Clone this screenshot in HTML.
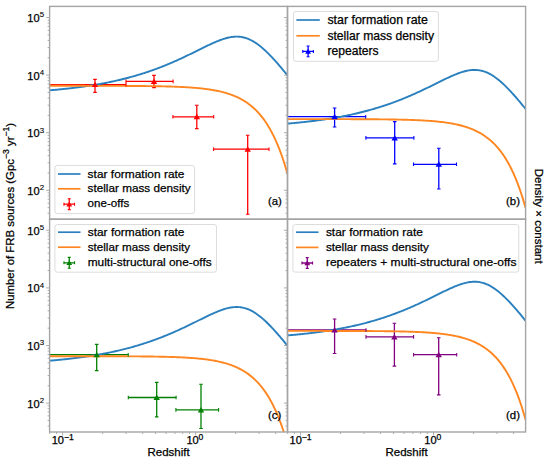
<!DOCTYPE html><html><head><meta charset="utf-8"><style>html,body{margin:0;padding:0;background:#fff;width:550px;height:463px;overflow:hidden}</style></head><body><svg width="550" height="463" viewBox="0 0 550 463" style="display:block">
<rect width="550" height="463" fill="#fff"/>
<defs>
<clipPath id="clipA"><rect x="49.6" y="6.4" width="237.9" height="212.79999999999998"/></clipPath>
<clipPath id="clipB"><rect x="287.5" y="6.4" width="238.10000000000002" height="212.79999999999998"/></clipPath>
<clipPath id="clipC"><rect x="49.6" y="219.2" width="237.9" height="212.8"/></clipPath>
<clipPath id="clipD"><rect x="287.5" y="219.2" width="238.10000000000002" height="212.8"/></clipPath>
</defs>
<g clip-path="url(#clipA)">
<path d="M40.00,84.60 H126.00 M95.00,79.40 V92.40" stroke="#ff0000" stroke-width="1.3" fill="none"/>
<path d="M126.00,81.40 H173.10 M154.00,75.40 V87.60" stroke="#ff0000" stroke-width="1.3" fill="none"/>
<path d="M172.90,116.80 H213.70 M196.80,105.20 V128.60" stroke="#ff0000" stroke-width="1.3" fill="none"/>
<path d="M213.60,149.20 H269.00 M247.70,135.30 V214.20" stroke="#ff0000" stroke-width="1.3" fill="none"/>
<path d="M49.60,90.30 L50.60,90.21 L51.59,90.13 L52.59,90.04 L53.58,89.96 L54.58,89.87 L55.57,89.78 L56.57,89.69 L57.56,89.59 L58.56,89.50 L59.55,89.40 L60.55,89.31 L61.54,89.21 L62.54,89.11 L63.54,89.00 L64.53,88.90 L65.53,88.79 L66.52,88.69 L67.52,88.58 L68.51,88.47 L69.51,88.36 L70.50,88.24 L71.50,88.13 L72.49,88.01 L73.49,87.89 L74.48,87.77 L75.48,87.64 L76.48,87.52 L77.47,87.39 L78.47,87.26 L79.46,87.13 L80.46,87.00 L81.45,86.87 L82.45,86.73 L83.44,86.59 L84.44,86.45 L85.43,86.31 L86.43,86.16 L87.43,86.01 L88.42,85.86 L89.42,85.71 L90.41,85.56 L91.41,85.40 L92.40,85.24 L93.40,85.08 L94.39,84.92 L95.39,84.75 L96.38,84.58 L97.38,84.41 L98.37,84.24 L99.37,84.06 L100.37,83.88 L101.36,83.70 L102.36,83.52 L103.35,83.33 L104.35,83.14 L105.34,82.95 L106.34,82.76 L107.33,82.56 L108.33,82.36 L109.32,82.16 L110.32,81.95 L111.31,81.74 L112.31,81.53 L113.31,81.32 L114.30,81.10 L115.30,80.88 L116.29,80.65 L117.29,80.43 L118.28,80.20 L119.28,79.97 L120.27,79.73 L121.27,79.49 L122.26,79.25 L123.26,79.00 L124.25,78.76 L125.25,78.50 L126.25,78.25 L127.24,77.99 L128.24,77.73 L129.23,77.46 L130.23,77.19 L131.22,76.92 L132.22,76.64 L133.21,76.37 L134.21,76.08 L135.20,75.80 L136.20,75.51 L137.19,75.21 L138.19,74.92 L139.19,74.61 L140.18,74.31 L141.18,74.00 L142.17,73.69 L143.17,73.37 L144.16,73.05 L145.16,72.73 L146.15,72.40 L147.15,72.07 L148.14,71.74 L149.14,71.40 L150.14,71.06 L151.13,70.71 L152.13,70.36 L153.12,70.01 L154.12,69.65 L155.11,69.29 L156.11,68.92 L157.10,68.55 L158.10,68.18 L159.09,67.80 L160.09,67.42 L161.08,67.03 L162.08,66.64 L163.08,66.25 L164.07,65.85 L165.07,65.45 L166.06,65.05 L167.06,64.64 L168.05,64.23 L169.05,63.81 L170.04,63.39 L171.04,62.96 L172.03,62.54 L173.03,62.11 L174.02,61.67 L175.02,61.23 L176.02,60.79 L177.01,60.34 L178.01,59.90 L179.00,59.44 L180.00,58.99 L180.99,58.53 L181.99,58.07 L182.98,57.60 L183.98,57.13 L184.97,56.66 L185.97,56.19 L186.96,55.71 L187.96,55.23 L188.96,54.75 L189.95,54.27 L190.95,53.79 L191.94,53.30 L192.94,52.81 L193.93,52.32 L194.93,51.83 L195.92,51.34 L196.92,50.85 L197.91,50.35 L198.91,49.86 L199.91,49.37 L200.90,48.88 L201.90,48.39 L202.89,47.90 L203.89,47.41 L204.88,46.92 L205.88,46.44 L206.87,45.96 L207.87,45.48 L208.86,45.01 L209.86,44.54 L210.85,44.08 L211.85,43.62 L212.85,43.17 L213.84,42.72 L214.84,42.29 L215.83,41.86 L216.83,41.44 L217.82,41.04 L218.82,40.64 L219.81,40.26 L220.81,39.89 L221.80,39.53 L222.80,39.19 L223.79,38.87 L224.79,38.56 L225.79,38.27 L226.78,38.00 L227.78,37.75 L228.77,37.52 L229.77,37.32 L230.76,37.14 L231.76,36.98 L232.75,36.85 L233.75,36.75 L234.74,36.68 L235.74,36.63 L236.73,36.62 L237.73,36.64 L238.73,36.69 L239.72,36.77 L240.72,36.89 L241.71,37.04 L242.71,37.23 L243.70,37.45 L244.70,37.71 L245.69,38.00 L246.69,38.33 L247.68,38.69 L248.68,39.09 L249.67,39.53 L250.67,40.00 L251.67,40.51 L252.66,41.05 L253.66,41.63 L254.65,42.24 L255.65,42.88 L256.64,43.55 L257.64,44.26 L258.63,45.00 L259.63,45.76 L260.62,46.56 L261.62,47.38 L262.62,48.22 L263.61,49.10 L264.61,50.00 L265.60,50.92 L266.60,51.86 L267.59,52.83 L268.59,53.81 L269.58,54.82 L270.58,55.85 L271.57,56.89 L272.57,57.95 L273.56,59.03 L274.56,60.12 L275.56,61.22 L276.55,62.35 L277.55,63.48 L278.54,64.63 L279.54,65.79 L280.53,66.96 L281.53,68.14 L282.52,69.33 L283.52,70.53 L284.51,71.75 L285.51,72.97 L286.50,74.20 L287.50,75.43" stroke="#2a80be" stroke-width="1.9" fill="none"/>
<path d="M49.60,85.81 L50.60,85.81 L51.59,85.81 L52.59,85.81 L53.58,85.81 L54.58,85.81 L55.57,85.81 L56.57,85.81 L57.56,85.81 L58.56,85.81 L59.55,85.81 L60.55,85.81 L61.54,85.81 L62.54,85.81 L63.54,85.81 L64.53,85.81 L65.53,85.81 L66.52,85.81 L67.52,85.81 L68.51,85.81 L69.51,85.81 L70.50,85.81 L71.50,85.82 L72.49,85.82 L73.49,85.82 L74.48,85.82 L75.48,85.82 L76.48,85.82 L77.47,85.82 L78.47,85.82 L79.46,85.82 L80.46,85.82 L81.45,85.82 L82.45,85.82 L83.44,85.82 L84.44,85.82 L85.43,85.83 L86.43,85.83 L87.43,85.83 L88.42,85.83 L89.42,85.83 L90.41,85.83 L91.41,85.83 L92.40,85.83 L93.40,85.83 L94.39,85.84 L95.39,85.84 L96.38,85.84 L97.38,85.84 L98.37,85.84 L99.37,85.84 L100.37,85.85 L101.36,85.85 L102.36,85.85 L103.35,85.85 L104.35,85.85 L105.34,85.86 L106.34,85.86 L107.33,85.86 L108.33,85.86 L109.32,85.86 L110.32,85.87 L111.31,85.87 L112.31,85.87 L113.31,85.88 L114.30,85.88 L115.30,85.88 L116.29,85.89 L117.29,85.89 L118.28,85.89 L119.28,85.90 L120.27,85.90 L121.27,85.90 L122.26,85.91 L123.26,85.91 L124.25,85.92 L125.25,85.92 L126.25,85.93 L127.24,85.93 L128.24,85.94 L129.23,85.94 L130.23,85.95 L131.22,85.95 L132.22,85.96 L133.21,85.97 L134.21,85.97 L135.20,85.98 L136.20,85.99 L137.19,86.00 L138.19,86.00 L139.19,86.01 L140.18,86.02 L141.18,86.03 L142.17,86.04 L143.17,86.05 L144.16,86.06 L145.16,86.07 L146.15,86.08 L147.15,86.09 L148.14,86.11 L149.14,86.12 L150.14,86.13 L151.13,86.14 L152.13,86.16 L153.12,86.17 L154.12,86.19 L155.11,86.21 L156.11,86.22 L157.10,86.24 L158.10,86.26 L159.09,86.28 L160.09,86.30 L161.08,86.32 L162.08,86.34 L163.08,86.36 L164.07,86.38 L165.07,86.41 L166.06,86.43 L167.06,86.46 L168.05,86.48 L169.05,86.51 L170.04,86.54 L171.04,86.57 L172.03,86.60 L173.03,86.64 L174.02,86.67 L175.02,86.71 L176.02,86.75 L177.01,86.79 L178.01,86.83 L179.00,86.87 L180.00,86.91 L180.99,86.96 L181.99,87.01 L182.98,87.06 L183.98,87.11 L184.97,87.16 L185.97,87.22 L186.96,87.28 L187.96,87.34 L188.96,87.40 L189.95,87.47 L190.95,87.54 L191.94,87.61 L192.94,87.68 L193.93,87.76 L194.93,87.84 L195.92,87.92 L196.92,88.01 L197.91,88.10 L198.91,88.20 L199.91,88.30 L200.90,88.40 L201.90,88.51 L202.89,88.62 L203.89,88.74 L204.88,88.86 L205.88,88.98 L206.87,89.12 L207.87,89.25 L208.86,89.40 L209.86,89.54 L210.85,89.70 L211.85,89.86 L212.85,90.03 L213.84,90.20 L214.84,90.38 L215.83,90.57 L216.83,90.77 L217.82,90.98 L218.82,91.19 L219.81,91.41 L220.81,91.65 L221.80,91.89 L222.80,92.14 L223.79,92.40 L224.79,92.67 L225.79,92.96 L226.78,93.25 L227.78,93.56 L228.77,93.88 L229.77,94.22 L230.76,94.56 L231.76,94.93 L232.75,95.30 L233.75,95.70 L234.74,96.11 L235.74,96.53 L236.73,96.98 L237.73,97.44 L238.73,97.92 L239.72,98.42 L240.72,98.94 L241.71,99.49 L242.71,100.05 L243.70,100.64 L244.70,101.25 L245.69,101.89 L246.69,102.56 L247.68,103.25 L248.68,103.97 L249.67,104.72 L250.67,105.50 L251.67,106.32 L252.66,107.17 L253.66,108.05 L254.65,108.97 L255.65,109.93 L256.64,110.93 L257.64,111.97 L258.63,113.05 L259.63,114.17 L260.62,115.35 L261.62,116.57 L262.62,117.84 L263.61,119.16 L264.61,120.54 L265.60,121.98 L266.60,123.48 L267.59,125.03 L268.59,126.66 L269.58,128.34 L270.58,130.10 L271.57,131.94 L272.57,133.84 L273.56,135.83 L274.56,137.90 L275.56,140.05 L276.55,142.29 L277.55,144.63 L278.54,147.06 L279.54,149.59 L280.53,152.23 L281.53,154.98 L282.52,157.84 L283.52,160.82 L284.51,163.92 L285.51,167.15 L286.50,170.51 L287.50,174.01" stroke="#ff8620" stroke-width="1.9" fill="none"/>
<path d="M40.00,82.80 V86.40 M126.00,82.80 V86.40 M93.20,79.40 H96.80 M93.20,92.40 H96.80" stroke="#ff0000" stroke-width="1.1" fill="none"/><path d="M95.00,81.66 L98.20,87.10 L91.80,87.10 Z" fill="#ff0000"/>
<path d="M126.00,79.60 V83.20 M173.10,79.60 V83.20 M152.20,75.40 H155.80 M152.20,87.60 H155.80" stroke="#ff0000" stroke-width="1.1" fill="none"/><path d="M154.00,78.46 L157.20,83.90 L150.80,83.90 Z" fill="#ff0000"/>
<path d="M172.90,115.00 V118.60 M213.70,115.00 V118.60 M195.00,105.20 H198.60 M195.00,128.60 H198.60" stroke="#ff0000" stroke-width="1.1" fill="none"/><path d="M196.80,113.86 L200.00,119.30 L193.60,119.30 Z" fill="#ff0000"/>
<path d="M213.60,147.40 V151.00 M269.00,147.40 V151.00 M245.90,135.30 H249.50 M245.90,214.20 H249.50" stroke="#ff0000" stroke-width="1.1" fill="none"/><path d="M247.70,146.26 L250.90,151.70 L244.50,151.70 Z" fill="#ff0000"/>
</g>
<g clip-path="url(#clipB)">
<path d="M280.00,116.70 H365.70 M334.60,108.00 V127.00" stroke="#0000ff" stroke-width="1.3" fill="none"/>
<path d="M365.90,137.90 H413.90 M394.70,121.60 V163.90" stroke="#0000ff" stroke-width="1.3" fill="none"/>
<path d="M413.50,164.30 H456.50 M438.80,148.20 V189.00" stroke="#0000ff" stroke-width="1.3" fill="none"/>
<path d="M287.50,123.60 L288.50,123.51 L289.49,123.43 L290.49,123.34 L291.48,123.26 L292.48,123.17 L293.48,123.08 L294.47,122.99 L295.47,122.89 L296.47,122.80 L297.46,122.70 L298.46,122.60 L299.45,122.51 L300.45,122.40 L301.45,122.30 L302.44,122.20 L303.44,122.09 L304.44,121.99 L305.43,121.88 L306.43,121.77 L307.42,121.65 L308.42,121.54 L309.42,121.42 L310.41,121.31 L311.41,121.19 L312.41,121.06 L313.40,120.94 L314.40,120.82 L315.39,120.69 L316.39,120.56 L317.39,120.43 L318.38,120.30 L319.38,120.16 L320.38,120.02 L321.37,119.89 L322.37,119.74 L323.36,119.60 L324.36,119.46 L325.36,119.31 L326.35,119.16 L327.35,119.01 L328.35,118.85 L329.34,118.69 L330.34,118.53 L331.33,118.37 L332.33,118.21 L333.33,118.04 L334.32,117.87 L335.32,117.70 L336.32,117.53 L337.31,117.35 L338.31,117.17 L339.30,116.99 L340.30,116.81 L341.30,116.62 L342.29,116.43 L343.29,116.24 L344.29,116.05 L345.28,115.85 L346.28,115.65 L347.27,115.45 L348.27,115.24 L349.27,115.03 L350.26,114.82 L351.26,114.60 L352.26,114.39 L353.25,114.17 L354.25,113.94 L355.24,113.72 L356.24,113.49 L357.24,113.25 L358.23,113.02 L359.23,112.78 L360.23,112.53 L361.22,112.29 L362.22,112.04 L363.21,111.79 L364.21,111.53 L365.21,111.27 L366.20,111.01 L367.20,110.74 L368.19,110.47 L369.19,110.20 L370.19,109.93 L371.18,109.65 L372.18,109.36 L373.18,109.08 L374.17,108.78 L375.17,108.49 L376.16,108.19 L377.16,107.89 L378.16,107.59 L379.15,107.28 L380.15,106.96 L381.15,106.65 L382.14,106.33 L383.14,106.00 L384.13,105.68 L385.13,105.35 L386.13,105.01 L387.12,104.67 L388.12,104.33 L389.12,103.98 L390.11,103.63 L391.11,103.28 L392.10,102.92 L393.10,102.55 L394.10,102.19 L395.09,101.82 L396.09,101.44 L397.09,101.06 L398.08,100.68 L399.08,100.30 L400.07,99.91 L401.07,99.51 L402.07,99.11 L403.06,98.71 L404.06,98.31 L405.06,97.90 L406.05,97.48 L407.05,97.07 L408.04,96.65 L409.04,96.22 L410.04,95.79 L411.03,95.36 L412.03,94.92 L413.03,94.49 L414.02,94.04 L415.02,93.60 L416.01,93.15 L417.01,92.69 L418.01,92.24 L419.00,91.78 L420.00,91.31 L421.00,90.85 L421.99,90.38 L422.99,89.91 L423.98,89.43 L424.98,88.96 L425.98,88.48 L426.97,88.00 L427.97,87.51 L428.97,87.03 L429.96,86.54 L430.96,86.05 L431.95,85.56 L432.95,85.07 L433.95,84.58 L434.94,84.09 L435.94,83.59 L436.94,83.10 L437.93,82.61 L438.93,82.11 L439.92,81.62 L440.92,81.13 L441.92,80.64 L442.91,80.16 L443.91,79.67 L444.91,79.19 L445.90,78.72 L446.90,78.24 L447.89,77.78 L448.89,77.31 L449.89,76.86 L450.88,76.41 L451.88,75.96 L452.87,75.53 L453.87,75.10 L454.87,74.69 L455.86,74.28 L456.86,73.89 L457.86,73.50 L458.85,73.13 L459.85,72.78 L460.84,72.44 L461.84,72.12 L462.84,71.81 L463.83,71.53 L464.83,71.26 L465.83,71.01 L466.82,70.79 L467.82,70.59 L468.81,70.41 L469.81,70.26 L470.81,70.14 L471.80,70.04 L472.80,69.97 L473.80,69.93 L474.79,69.92 L475.79,69.95 L476.78,70.00 L477.78,70.09 L478.78,70.21 L479.77,70.37 L480.77,70.56 L481.77,70.79 L482.76,71.05 L483.76,71.35 L484.75,71.69 L485.75,72.06 L486.75,72.47 L487.74,72.91 L488.74,73.39 L489.74,73.90 L490.73,74.45 L491.73,75.03 L492.72,75.65 L493.72,76.30 L494.72,76.98 L495.71,77.69 L496.71,78.43 L497.71,79.20 L498.70,80.00 L499.70,80.83 L500.69,81.68 L501.69,82.56 L502.69,83.46 L503.68,84.39 L504.68,85.34 L505.68,86.31 L506.67,87.30 L507.67,88.31 L508.66,89.34 L509.66,90.39 L510.66,91.45 L511.65,92.53 L512.65,93.63 L513.65,94.74 L514.64,95.86 L515.64,97.00 L516.63,98.15 L517.63,99.31 L518.63,100.49 L519.62,101.67 L520.62,102.87 L521.62,104.07 L522.61,105.29 L523.61,106.51 L524.60,107.74 L525.60,108.98" stroke="#2a80be" stroke-width="1.9" fill="none"/>
<path d="M287.50,119.11 L288.50,119.11 L289.49,119.11 L290.49,119.11 L291.48,119.11 L292.48,119.11 L293.48,119.11 L294.47,119.11 L295.47,119.11 L296.47,119.11 L297.46,119.11 L298.46,119.11 L299.45,119.11 L300.45,119.11 L301.45,119.11 L302.44,119.11 L303.44,119.11 L304.44,119.11 L305.43,119.11 L306.43,119.11 L307.42,119.11 L308.42,119.11 L309.42,119.12 L310.41,119.12 L311.41,119.12 L312.41,119.12 L313.40,119.12 L314.40,119.12 L315.39,119.12 L316.39,119.12 L317.39,119.12 L318.38,119.12 L319.38,119.12 L320.38,119.12 L321.37,119.12 L322.37,119.12 L323.36,119.13 L324.36,119.13 L325.36,119.13 L326.35,119.13 L327.35,119.13 L328.35,119.13 L329.34,119.13 L330.34,119.13 L331.33,119.13 L332.33,119.14 L333.33,119.14 L334.32,119.14 L335.32,119.14 L336.32,119.14 L337.31,119.14 L338.31,119.15 L339.30,119.15 L340.30,119.15 L341.30,119.15 L342.29,119.15 L343.29,119.16 L344.29,119.16 L345.28,119.16 L346.28,119.16 L347.27,119.16 L348.27,119.17 L349.27,119.17 L350.26,119.17 L351.26,119.18 L352.26,119.18 L353.25,119.18 L354.25,119.19 L355.24,119.19 L356.24,119.19 L357.24,119.20 L358.23,119.20 L359.23,119.20 L360.23,119.21 L361.22,119.21 L362.22,119.22 L363.21,119.22 L364.21,119.23 L365.21,119.23 L366.20,119.24 L367.20,119.24 L368.19,119.25 L369.19,119.25 L370.19,119.26 L371.18,119.27 L372.18,119.27 L373.18,119.28 L374.17,119.29 L375.17,119.30 L376.16,119.31 L377.16,119.31 L378.16,119.32 L379.15,119.33 L380.15,119.34 L381.15,119.35 L382.14,119.36 L383.14,119.37 L384.13,119.38 L385.13,119.39 L386.13,119.41 L387.12,119.42 L388.12,119.43 L389.12,119.45 L390.11,119.46 L391.11,119.48 L392.10,119.49 L393.10,119.51 L394.10,119.52 L395.09,119.54 L396.09,119.56 L397.09,119.58 L398.08,119.60 L399.08,119.62 L400.07,119.64 L401.07,119.66 L402.07,119.68 L403.06,119.71 L404.06,119.73 L405.06,119.76 L406.05,119.79 L407.05,119.82 L408.04,119.85 L409.04,119.88 L410.04,119.91 L411.03,119.94 L412.03,119.98 L413.03,120.01 L414.02,120.05 L415.02,120.09 L416.01,120.13 L417.01,120.17 L418.01,120.22 L419.00,120.26 L420.00,120.31 L421.00,120.36 L421.99,120.41 L422.99,120.47 L423.98,120.52 L424.98,120.58 L425.98,120.64 L426.97,120.71 L427.97,120.77 L428.97,120.84 L429.96,120.92 L430.96,120.99 L431.95,121.07 L432.95,121.15 L433.95,121.24 L434.94,121.32 L435.94,121.42 L436.94,121.51 L437.93,121.61 L438.93,121.71 L439.92,121.82 L440.92,121.94 L441.92,122.05 L442.91,122.17 L443.91,122.30 L444.91,122.43 L445.90,122.57 L446.90,122.72 L447.89,122.87 L448.89,123.02 L449.89,123.18 L450.88,123.35 L451.88,123.53 L452.87,123.71 L453.87,123.90 L454.87,124.10 L455.86,124.31 L456.86,124.52 L457.86,124.75 L458.85,124.98 L459.85,125.22 L460.84,125.48 L461.84,125.74 L462.84,126.02 L463.83,126.30 L464.83,126.60 L465.83,126.91 L466.82,127.23 L467.82,127.57 L468.81,127.92 L469.81,128.28 L470.81,128.66 L471.80,129.06 L472.80,129.47 L473.80,129.90 L474.79,130.35 L475.79,130.81 L476.78,131.30 L477.78,131.80 L478.78,132.33 L479.77,132.88 L480.77,133.45 L481.77,134.04 L482.76,134.66 L483.76,135.30 L484.75,135.97 L485.75,136.67 L486.75,137.40 L487.74,138.15 L488.74,138.94 L489.74,139.76 L490.73,140.62 L491.73,141.51 L492.72,142.43 L493.72,143.40 L494.72,144.41 L495.71,145.45 L496.71,146.54 L497.71,147.68 L498.70,148.86 L499.70,150.09 L500.69,151.37 L501.69,152.71 L502.69,154.10 L503.68,155.55 L504.68,157.06 L505.68,158.63 L506.67,160.26 L507.67,161.97 L508.66,163.74 L509.66,165.59 L510.66,167.51 L511.65,169.51 L512.65,171.60 L513.65,173.77 L514.64,176.03 L515.64,178.39 L516.63,180.84 L517.63,183.40 L518.63,186.06 L519.62,188.83 L520.62,191.72 L521.62,194.72 L522.61,197.85 L523.61,201.11 L524.60,204.50 L525.60,208.03" stroke="#ff8620" stroke-width="1.9" fill="none"/>
<path d="M280.00,114.90 V118.50 M365.70,114.90 V118.50 M332.80,108.00 H336.40 M332.80,127.00 H336.40" stroke="#0000ff" stroke-width="1.1" fill="none"/><path d="M334.60,113.76 L337.80,119.20 L331.40,119.20 Z" fill="#0000ff"/>
<path d="M365.90,136.10 V139.70 M413.90,136.10 V139.70 M392.90,121.60 H396.50 M392.90,163.90 H396.50" stroke="#0000ff" stroke-width="1.1" fill="none"/><path d="M394.70,134.96 L397.90,140.40 L391.50,140.40 Z" fill="#0000ff"/>
<path d="M413.50,162.50 V166.10 M456.50,162.50 V166.10 M437.00,148.20 H440.60 M437.00,189.00 H440.60" stroke="#0000ff" stroke-width="1.1" fill="none"/><path d="M438.80,161.36 L442.00,166.80 L435.60,166.80 Z" fill="#0000ff"/>
</g>
<g clip-path="url(#clipC)">
<path d="M40.00,354.70 H128.20 M96.70,344.40 V370.60" stroke="#008000" stroke-width="1.3" fill="none"/>
<path d="M128.30,397.50 H176.10 M156.70,382.40 V416.90" stroke="#008000" stroke-width="1.3" fill="none"/>
<path d="M175.90,409.90 H218.60 M201.00,384.20 V428.50" stroke="#008000" stroke-width="1.3" fill="none"/>
<path d="M49.60,360.70 L50.60,360.61 L51.59,360.53 L52.59,360.44 L53.58,360.36 L54.58,360.27 L55.57,360.18 L56.57,360.09 L57.56,359.99 L58.56,359.90 L59.55,359.80 L60.55,359.71 L61.54,359.61 L62.54,359.51 L63.54,359.40 L64.53,359.30 L65.53,359.19 L66.52,359.09 L67.52,358.98 L68.51,358.87 L69.51,358.76 L70.50,358.64 L71.50,358.53 L72.49,358.41 L73.49,358.29 L74.48,358.17 L75.48,358.04 L76.48,357.92 L77.47,357.79 L78.47,357.66 L79.46,357.53 L80.46,357.40 L81.45,357.27 L82.45,357.13 L83.44,356.99 L84.44,356.85 L85.43,356.71 L86.43,356.56 L87.43,356.41 L88.42,356.26 L89.42,356.11 L90.41,355.96 L91.41,355.80 L92.40,355.64 L93.40,355.48 L94.39,355.32 L95.39,355.15 L96.38,354.98 L97.38,354.81 L98.37,354.64 L99.37,354.46 L100.37,354.28 L101.36,354.10 L102.36,353.92 L103.35,353.73 L104.35,353.54 L105.34,353.35 L106.34,353.16 L107.33,352.96 L108.33,352.76 L109.32,352.56 L110.32,352.35 L111.31,352.14 L112.31,351.93 L113.31,351.72 L114.30,351.50 L115.30,351.28 L116.29,351.05 L117.29,350.83 L118.28,350.60 L119.28,350.37 L120.27,350.13 L121.27,349.89 L122.26,349.65 L123.26,349.40 L124.25,349.16 L125.25,348.90 L126.25,348.65 L127.24,348.39 L128.24,348.13 L129.23,347.86 L130.23,347.59 L131.22,347.32 L132.22,347.04 L133.21,346.77 L134.21,346.48 L135.20,346.20 L136.20,345.91 L137.19,345.61 L138.19,345.32 L139.19,345.01 L140.18,344.71 L141.18,344.40 L142.17,344.09 L143.17,343.77 L144.16,343.45 L145.16,343.13 L146.15,342.80 L147.15,342.47 L148.14,342.14 L149.14,341.80 L150.14,341.46 L151.13,341.11 L152.13,340.76 L153.12,340.41 L154.12,340.05 L155.11,339.69 L156.11,339.32 L157.10,338.95 L158.10,338.58 L159.09,338.20 L160.09,337.82 L161.08,337.43 L162.08,337.04 L163.08,336.65 L164.07,336.25 L165.07,335.85 L166.06,335.45 L167.06,335.04 L168.05,334.63 L169.05,334.21 L170.04,333.79 L171.04,333.36 L172.03,332.94 L173.03,332.51 L174.02,332.07 L175.02,331.63 L176.02,331.19 L177.01,330.74 L178.01,330.30 L179.00,329.84 L180.00,329.39 L180.99,328.93 L181.99,328.47 L182.98,328.00 L183.98,327.53 L184.97,327.06 L185.97,326.59 L186.96,326.11 L187.96,325.63 L188.96,325.15 L189.95,324.67 L190.95,324.19 L191.94,323.70 L192.94,323.21 L193.93,322.72 L194.93,322.23 L195.92,321.74 L196.92,321.25 L197.91,320.75 L198.91,320.26 L199.91,319.77 L200.90,319.28 L201.90,318.79 L202.89,318.30 L203.89,317.81 L204.88,317.32 L205.88,316.84 L206.87,316.36 L207.87,315.88 L208.86,315.41 L209.86,314.94 L210.85,314.48 L211.85,314.02 L212.85,313.57 L213.84,313.12 L214.84,312.69 L215.83,312.26 L216.83,311.84 L217.82,311.44 L218.82,311.04 L219.81,310.66 L220.81,310.29 L221.80,309.93 L222.80,309.59 L223.79,309.27 L224.79,308.96 L225.79,308.67 L226.78,308.40 L227.78,308.15 L228.77,307.92 L229.77,307.72 L230.76,307.54 L231.76,307.38 L232.75,307.25 L233.75,307.15 L234.74,307.08 L235.74,307.03 L236.73,307.02 L237.73,307.04 L238.73,307.09 L239.72,307.17 L240.72,307.29 L241.71,307.44 L242.71,307.63 L243.70,307.85 L244.70,308.11 L245.69,308.40 L246.69,308.73 L247.68,309.09 L248.68,309.49 L249.67,309.93 L250.67,310.40 L251.67,310.91 L252.66,311.45 L253.66,312.03 L254.65,312.64 L255.65,313.28 L256.64,313.95 L257.64,314.66 L258.63,315.40 L259.63,316.16 L260.62,316.96 L261.62,317.78 L262.62,318.62 L263.61,319.50 L264.61,320.40 L265.60,321.32 L266.60,322.26 L267.59,323.23 L268.59,324.21 L269.58,325.22 L270.58,326.25 L271.57,327.29 L272.57,328.35 L273.56,329.43 L274.56,330.52 L275.56,331.62 L276.55,332.75 L277.55,333.88 L278.54,335.03 L279.54,336.19 L280.53,337.36 L281.53,338.54 L282.52,339.73 L283.52,340.93 L284.51,342.15 L285.51,343.37 L286.50,344.60 L287.50,345.83" stroke="#2a80be" stroke-width="1.9" fill="none"/>
<path d="M49.60,356.21 L50.60,356.21 L51.59,356.21 L52.59,356.21 L53.58,356.21 L54.58,356.21 L55.57,356.21 L56.57,356.21 L57.56,356.21 L58.56,356.21 L59.55,356.21 L60.55,356.21 L61.54,356.21 L62.54,356.21 L63.54,356.21 L64.53,356.21 L65.53,356.21 L66.52,356.21 L67.52,356.21 L68.51,356.21 L69.51,356.21 L70.50,356.21 L71.50,356.22 L72.49,356.22 L73.49,356.22 L74.48,356.22 L75.48,356.22 L76.48,356.22 L77.47,356.22 L78.47,356.22 L79.46,356.22 L80.46,356.22 L81.45,356.22 L82.45,356.22 L83.44,356.22 L84.44,356.22 L85.43,356.23 L86.43,356.23 L87.43,356.23 L88.42,356.23 L89.42,356.23 L90.41,356.23 L91.41,356.23 L92.40,356.23 L93.40,356.23 L94.39,356.24 L95.39,356.24 L96.38,356.24 L97.38,356.24 L98.37,356.24 L99.37,356.24 L100.37,356.25 L101.36,356.25 L102.36,356.25 L103.35,356.25 L104.35,356.25 L105.34,356.26 L106.34,356.26 L107.33,356.26 L108.33,356.26 L109.32,356.26 L110.32,356.27 L111.31,356.27 L112.31,356.27 L113.31,356.28 L114.30,356.28 L115.30,356.28 L116.29,356.29 L117.29,356.29 L118.28,356.29 L119.28,356.30 L120.27,356.30 L121.27,356.30 L122.26,356.31 L123.26,356.31 L124.25,356.32 L125.25,356.32 L126.25,356.33 L127.24,356.33 L128.24,356.34 L129.23,356.34 L130.23,356.35 L131.22,356.35 L132.22,356.36 L133.21,356.37 L134.21,356.37 L135.20,356.38 L136.20,356.39 L137.19,356.40 L138.19,356.40 L139.19,356.41 L140.18,356.42 L141.18,356.43 L142.17,356.44 L143.17,356.45 L144.16,356.46 L145.16,356.47 L146.15,356.48 L147.15,356.49 L148.14,356.51 L149.14,356.52 L150.14,356.53 L151.13,356.54 L152.13,356.56 L153.12,356.57 L154.12,356.59 L155.11,356.61 L156.11,356.62 L157.10,356.64 L158.10,356.66 L159.09,356.68 L160.09,356.70 L161.08,356.72 L162.08,356.74 L163.08,356.76 L164.07,356.78 L165.07,356.81 L166.06,356.83 L167.06,356.86 L168.05,356.88 L169.05,356.91 L170.04,356.94 L171.04,356.97 L172.03,357.00 L173.03,357.04 L174.02,357.07 L175.02,357.11 L176.02,357.15 L177.01,357.19 L178.01,357.23 L179.00,357.27 L180.00,357.31 L180.99,357.36 L181.99,357.41 L182.98,357.46 L183.98,357.51 L184.97,357.56 L185.97,357.62 L186.96,357.68 L187.96,357.74 L188.96,357.80 L189.95,357.87 L190.95,357.94 L191.94,358.01 L192.94,358.08 L193.93,358.16 L194.93,358.24 L195.92,358.32 L196.92,358.41 L197.91,358.50 L198.91,358.60 L199.91,358.70 L200.90,358.80 L201.90,358.91 L202.89,359.02 L203.89,359.14 L204.88,359.26 L205.88,359.38 L206.87,359.52 L207.87,359.65 L208.86,359.80 L209.86,359.94 L210.85,360.10 L211.85,360.26 L212.85,360.43 L213.84,360.60 L214.84,360.78 L215.83,360.97 L216.83,361.17 L217.82,361.38 L218.82,361.59 L219.81,361.81 L220.81,362.05 L221.80,362.29 L222.80,362.54 L223.79,362.80 L224.79,363.07 L225.79,363.36 L226.78,363.65 L227.78,363.96 L228.77,364.28 L229.77,364.62 L230.76,364.96 L231.76,365.33 L232.75,365.70 L233.75,366.10 L234.74,366.51 L235.74,366.93 L236.73,367.38 L237.73,367.84 L238.73,368.32 L239.72,368.82 L240.72,369.34 L241.71,369.89 L242.71,370.45 L243.70,371.04 L244.70,371.65 L245.69,372.29 L246.69,372.96 L247.68,373.65 L248.68,374.37 L249.67,375.12 L250.67,375.90 L251.67,376.72 L252.66,377.57 L253.66,378.45 L254.65,379.37 L255.65,380.33 L256.64,381.33 L257.64,382.37 L258.63,383.45 L259.63,384.57 L260.62,385.75 L261.62,386.97 L262.62,388.24 L263.61,389.56 L264.61,390.94 L265.60,392.38 L266.60,393.88 L267.59,395.43 L268.59,397.06 L269.58,398.74 L270.58,400.50 L271.57,402.34 L272.57,404.24 L273.56,406.23 L274.56,408.30 L275.56,410.45 L276.55,412.69 L277.55,415.03 L278.54,417.46 L279.54,419.99 L280.53,422.63 L281.53,425.38 L282.52,428.24 L283.52,431.22 L284.51,434.32 L285.51,437.55 L286.50,440.91 L287.50,444.41" stroke="#ff8620" stroke-width="1.9" fill="none"/>
<path d="M40.00,352.90 V356.50 M128.20,352.90 V356.50 M94.90,344.40 H98.50 M94.90,370.60 H98.50" stroke="#008000" stroke-width="1.1" fill="none"/><path d="M96.70,351.76 L99.90,357.20 L93.50,357.20 Z" fill="#008000"/>
<path d="M128.30,395.70 V399.30 M176.10,395.70 V399.30 M154.90,382.40 H158.50 M154.90,416.90 H158.50" stroke="#008000" stroke-width="1.1" fill="none"/><path d="M156.70,394.56 L159.90,400.00 L153.50,400.00 Z" fill="#008000"/>
<path d="M175.90,408.10 V411.70 M218.60,408.10 V411.70 M199.20,384.20 H202.80 M199.20,428.50 H202.80" stroke="#008000" stroke-width="1.1" fill="none"/><path d="M201.00,406.96 L204.20,412.40 L197.80,412.40 Z" fill="#008000"/>
</g>
<g clip-path="url(#clipD)">
<path d="M280.00,330.00 H366.00 M334.60,319.00 V353.50" stroke="#800080" stroke-width="1.3" fill="none"/>
<path d="M366.00,336.90 H413.60 M394.40,323.30 V366.10" stroke="#800080" stroke-width="1.3" fill="none"/>
<path d="M413.60,354.70 H456.70 M438.70,337.80 V394.90" stroke="#800080" stroke-width="1.3" fill="none"/>
<path d="M287.50,335.40 L288.50,335.31 L289.49,335.23 L290.49,335.14 L291.48,335.06 L292.48,334.97 L293.48,334.88 L294.47,334.79 L295.47,334.69 L296.47,334.60 L297.46,334.50 L298.46,334.40 L299.45,334.31 L300.45,334.20 L301.45,334.10 L302.44,334.00 L303.44,333.89 L304.44,333.79 L305.43,333.68 L306.43,333.57 L307.42,333.45 L308.42,333.34 L309.42,333.22 L310.41,333.11 L311.41,332.99 L312.41,332.86 L313.40,332.74 L314.40,332.62 L315.39,332.49 L316.39,332.36 L317.39,332.23 L318.38,332.10 L319.38,331.96 L320.38,331.82 L321.37,331.69 L322.37,331.54 L323.36,331.40 L324.36,331.26 L325.36,331.11 L326.35,330.96 L327.35,330.81 L328.35,330.65 L329.34,330.49 L330.34,330.33 L331.33,330.17 L332.33,330.01 L333.33,329.84 L334.32,329.67 L335.32,329.50 L336.32,329.33 L337.31,329.15 L338.31,328.97 L339.30,328.79 L340.30,328.61 L341.30,328.42 L342.29,328.23 L343.29,328.04 L344.29,327.85 L345.28,327.65 L346.28,327.45 L347.27,327.25 L348.27,327.04 L349.27,326.83 L350.26,326.62 L351.26,326.40 L352.26,326.19 L353.25,325.97 L354.25,325.74 L355.24,325.52 L356.24,325.29 L357.24,325.05 L358.23,324.82 L359.23,324.58 L360.23,324.33 L361.22,324.09 L362.22,323.84 L363.21,323.59 L364.21,323.33 L365.21,323.07 L366.20,322.81 L367.20,322.54 L368.19,322.27 L369.19,322.00 L370.19,321.73 L371.18,321.45 L372.18,321.16 L373.18,320.88 L374.17,320.58 L375.17,320.29 L376.16,319.99 L377.16,319.69 L378.16,319.39 L379.15,319.08 L380.15,318.76 L381.15,318.45 L382.14,318.13 L383.14,317.80 L384.13,317.48 L385.13,317.15 L386.13,316.81 L387.12,316.47 L388.12,316.13 L389.12,315.78 L390.11,315.43 L391.11,315.08 L392.10,314.72 L393.10,314.35 L394.10,313.99 L395.09,313.62 L396.09,313.24 L397.09,312.86 L398.08,312.48 L399.08,312.10 L400.07,311.71 L401.07,311.31 L402.07,310.91 L403.06,310.51 L404.06,310.11 L405.06,309.70 L406.05,309.28 L407.05,308.87 L408.04,308.45 L409.04,308.02 L410.04,307.59 L411.03,307.16 L412.03,306.72 L413.03,306.29 L414.02,305.84 L415.02,305.40 L416.01,304.95 L417.01,304.49 L418.01,304.04 L419.00,303.58 L420.00,303.11 L421.00,302.65 L421.99,302.18 L422.99,301.71 L423.98,301.23 L424.98,300.76 L425.98,300.28 L426.97,299.80 L427.97,299.31 L428.97,298.83 L429.96,298.34 L430.96,297.85 L431.95,297.36 L432.95,296.87 L433.95,296.38 L434.94,295.89 L435.94,295.39 L436.94,294.90 L437.93,294.41 L438.93,293.91 L439.92,293.42 L440.92,292.93 L441.92,292.44 L442.91,291.96 L443.91,291.47 L444.91,290.99 L445.90,290.52 L446.90,290.04 L447.89,289.58 L448.89,289.11 L449.89,288.66 L450.88,288.21 L451.88,287.76 L452.87,287.33 L453.87,286.90 L454.87,286.49 L455.86,286.08 L456.86,285.69 L457.86,285.30 L458.85,284.93 L459.85,284.58 L460.84,284.24 L461.84,283.92 L462.84,283.61 L463.83,283.33 L464.83,283.06 L465.83,282.81 L466.82,282.59 L467.82,282.39 L468.81,282.21 L469.81,282.06 L470.81,281.94 L471.80,281.84 L472.80,281.77 L473.80,281.73 L474.79,281.72 L475.79,281.75 L476.78,281.80 L477.78,281.89 L478.78,282.01 L479.77,282.17 L480.77,282.36 L481.77,282.59 L482.76,282.85 L483.76,283.15 L484.75,283.49 L485.75,283.86 L486.75,284.27 L487.74,284.71 L488.74,285.19 L489.74,285.70 L490.73,286.25 L491.73,286.83 L492.72,287.45 L493.72,288.10 L494.72,288.78 L495.71,289.49 L496.71,290.23 L497.71,291.00 L498.70,291.80 L499.70,292.63 L500.69,293.48 L501.69,294.36 L502.69,295.26 L503.68,296.19 L504.68,297.14 L505.68,298.11 L506.67,299.10 L507.67,300.11 L508.66,301.14 L509.66,302.19 L510.66,303.25 L511.65,304.33 L512.65,305.43 L513.65,306.54 L514.64,307.66 L515.64,308.80 L516.63,309.95 L517.63,311.11 L518.63,312.29 L519.62,313.47 L520.62,314.67 L521.62,315.87 L522.61,317.09 L523.61,318.31 L524.60,319.54 L525.60,320.78" stroke="#2a80be" stroke-width="1.9" fill="none"/>
<path d="M287.50,330.91 L288.50,330.91 L289.49,330.91 L290.49,330.91 L291.48,330.91 L292.48,330.91 L293.48,330.91 L294.47,330.91 L295.47,330.91 L296.47,330.91 L297.46,330.91 L298.46,330.91 L299.45,330.91 L300.45,330.91 L301.45,330.91 L302.44,330.91 L303.44,330.91 L304.44,330.91 L305.43,330.91 L306.43,330.91 L307.42,330.91 L308.42,330.91 L309.42,330.92 L310.41,330.92 L311.41,330.92 L312.41,330.92 L313.40,330.92 L314.40,330.92 L315.39,330.92 L316.39,330.92 L317.39,330.92 L318.38,330.92 L319.38,330.92 L320.38,330.92 L321.37,330.92 L322.37,330.92 L323.36,330.93 L324.36,330.93 L325.36,330.93 L326.35,330.93 L327.35,330.93 L328.35,330.93 L329.34,330.93 L330.34,330.93 L331.33,330.93 L332.33,330.94 L333.33,330.94 L334.32,330.94 L335.32,330.94 L336.32,330.94 L337.31,330.94 L338.31,330.95 L339.30,330.95 L340.30,330.95 L341.30,330.95 L342.29,330.95 L343.29,330.96 L344.29,330.96 L345.28,330.96 L346.28,330.96 L347.27,330.96 L348.27,330.97 L349.27,330.97 L350.26,330.97 L351.26,330.98 L352.26,330.98 L353.25,330.98 L354.25,330.99 L355.24,330.99 L356.24,330.99 L357.24,331.00 L358.23,331.00 L359.23,331.00 L360.23,331.01 L361.22,331.01 L362.22,331.02 L363.21,331.02 L364.21,331.03 L365.21,331.03 L366.20,331.04 L367.20,331.04 L368.19,331.05 L369.19,331.05 L370.19,331.06 L371.18,331.07 L372.18,331.07 L373.18,331.08 L374.17,331.09 L375.17,331.10 L376.16,331.11 L377.16,331.11 L378.16,331.12 L379.15,331.13 L380.15,331.14 L381.15,331.15 L382.14,331.16 L383.14,331.17 L384.13,331.18 L385.13,331.19 L386.13,331.21 L387.12,331.22 L388.12,331.23 L389.12,331.25 L390.11,331.26 L391.11,331.28 L392.10,331.29 L393.10,331.31 L394.10,331.32 L395.09,331.34 L396.09,331.36 L397.09,331.38 L398.08,331.40 L399.08,331.42 L400.07,331.44 L401.07,331.46 L402.07,331.48 L403.06,331.51 L404.06,331.53 L405.06,331.56 L406.05,331.59 L407.05,331.62 L408.04,331.65 L409.04,331.68 L410.04,331.71 L411.03,331.74 L412.03,331.78 L413.03,331.81 L414.02,331.85 L415.02,331.89 L416.01,331.93 L417.01,331.97 L418.01,332.02 L419.00,332.06 L420.00,332.11 L421.00,332.16 L421.99,332.21 L422.99,332.27 L423.98,332.32 L424.98,332.38 L425.98,332.44 L426.97,332.51 L427.97,332.57 L428.97,332.64 L429.96,332.72 L430.96,332.79 L431.95,332.87 L432.95,332.95 L433.95,333.04 L434.94,333.12 L435.94,333.22 L436.94,333.31 L437.93,333.41 L438.93,333.51 L439.92,333.62 L440.92,333.74 L441.92,333.85 L442.91,333.97 L443.91,334.10 L444.91,334.23 L445.90,334.37 L446.90,334.52 L447.89,334.67 L448.89,334.82 L449.89,334.98 L450.88,335.15 L451.88,335.33 L452.87,335.51 L453.87,335.70 L454.87,335.90 L455.86,336.11 L456.86,336.32 L457.86,336.55 L458.85,336.78 L459.85,337.02 L460.84,337.28 L461.84,337.54 L462.84,337.82 L463.83,338.10 L464.83,338.40 L465.83,338.71 L466.82,339.03 L467.82,339.37 L468.81,339.72 L469.81,340.08 L470.81,340.46 L471.80,340.86 L472.80,341.27 L473.80,341.70 L474.79,342.15 L475.79,342.61 L476.78,343.10 L477.78,343.60 L478.78,344.13 L479.77,344.68 L480.77,345.25 L481.77,345.84 L482.76,346.46 L483.76,347.10 L484.75,347.77 L485.75,348.47 L486.75,349.20 L487.74,349.95 L488.74,350.74 L489.74,351.56 L490.73,352.42 L491.73,353.31 L492.72,354.23 L493.72,355.20 L494.72,356.21 L495.71,357.25 L496.71,358.34 L497.71,359.48 L498.70,360.66 L499.70,361.89 L500.69,363.17 L501.69,364.51 L502.69,365.90 L503.68,367.35 L504.68,368.86 L505.68,370.43 L506.67,372.06 L507.67,373.77 L508.66,375.54 L509.66,377.39 L510.66,379.31 L511.65,381.31 L512.65,383.40 L513.65,385.57 L514.64,387.83 L515.64,390.19 L516.63,392.64 L517.63,395.20 L518.63,397.86 L519.62,400.63 L520.62,403.52 L521.62,406.52 L522.61,409.65 L523.61,412.91 L524.60,416.30 L525.60,419.83" stroke="#ff8620" stroke-width="1.9" fill="none"/>
<path d="M280.00,328.20 V331.80 M366.00,328.20 V331.80 M332.80,319.00 H336.40 M332.80,353.50 H336.40" stroke="#800080" stroke-width="1.1" fill="none"/><path d="M334.60,327.06 L337.80,332.50 L331.40,332.50 Z" fill="#800080"/>
<path d="M366.00,335.10 V338.70 M413.60,335.10 V338.70 M392.60,323.30 H396.20 M392.60,366.10 H396.20" stroke="#800080" stroke-width="1.1" fill="none"/><path d="M394.40,333.96 L397.60,339.40 L391.20,339.40 Z" fill="#800080"/>
<path d="M413.60,352.90 V356.50 M456.70,352.90 V356.50 M436.90,337.80 H440.50 M436.90,394.90 H440.50" stroke="#800080" stroke-width="1.1" fill="none"/><path d="M438.70,351.76 L441.90,357.20 L435.50,357.20 Z" fill="#800080"/>
</g>
<path d="M47.60,213.22 H49.60 M47.60,207.64 H49.60 M47.60,203.08 H49.60 M47.60,199.22 H49.60 M47.60,195.88 H49.60 M47.60,192.94 H49.60 M46.10,190.30 H49.60 M47.60,172.96 H49.60 M47.60,162.82 H49.60 M47.60,155.62 H49.60 M47.60,150.04 H49.60 M47.60,145.48 H49.60 M47.60,141.62 H49.60 M47.60,138.28 H49.60 M47.60,135.34 H49.60 M46.10,132.70 H49.60 M47.60,115.36 H49.60 M47.60,105.22 H49.60 M47.60,98.02 H49.60 M47.60,92.44 H49.60 M47.60,87.88 H49.60 M47.60,84.02 H49.60 M47.60,80.68 H49.60 M47.60,77.74 H49.60 M46.10,75.10 H49.60 M47.60,57.76 H49.60 M47.60,47.62 H49.60 M47.60,40.42 H49.60 M47.60,34.84 H49.60 M47.60,30.28 H49.60 M47.60,26.42 H49.60 M47.60,23.08 H49.60 M47.60,20.14 H49.60 M46.10,17.50 H49.60 M285.50,213.22 H287.50 M285.50,207.64 H287.50 M285.50,203.08 H287.50 M285.50,199.22 H287.50 M285.50,195.88 H287.50 M285.50,192.94 H287.50 M284.00,190.30 H287.50 M285.50,172.96 H287.50 M285.50,162.82 H287.50 M285.50,155.62 H287.50 M285.50,150.04 H287.50 M285.50,145.48 H287.50 M285.50,141.62 H287.50 M285.50,138.28 H287.50 M285.50,135.34 H287.50 M284.00,132.70 H287.50 M285.50,115.36 H287.50 M285.50,105.22 H287.50 M285.50,98.02 H287.50 M285.50,92.44 H287.50 M285.50,87.88 H287.50 M285.50,84.02 H287.50 M285.50,80.68 H287.50 M285.50,77.74 H287.50 M284.00,75.10 H287.50 M285.50,57.76 H287.50 M285.50,47.62 H287.50 M285.50,40.42 H287.50 M285.50,34.84 H287.50 M285.50,30.28 H287.50 M285.50,26.42 H287.50 M285.50,23.08 H287.50 M285.50,20.14 H287.50 M284.00,17.50 H287.50 M47.60,426.02 H49.60 M47.60,420.44 H49.60 M47.60,415.88 H49.60 M47.60,412.02 H49.60 M47.60,408.68 H49.60 M47.60,405.74 H49.60 M46.10,403.10 H49.60 M47.60,385.76 H49.60 M47.60,375.62 H49.60 M47.60,368.42 H49.60 M47.60,362.84 H49.60 M47.60,358.28 H49.60 M47.60,354.42 H49.60 M47.60,351.08 H49.60 M47.60,348.14 H49.60 M46.10,345.50 H49.60 M47.60,328.16 H49.60 M47.60,318.02 H49.60 M47.60,310.82 H49.60 M47.60,305.24 H49.60 M47.60,300.68 H49.60 M47.60,296.82 H49.60 M47.60,293.48 H49.60 M47.60,290.54 H49.60 M46.10,287.90 H49.60 M47.60,270.56 H49.60 M47.60,260.42 H49.60 M47.60,253.22 H49.60 M47.60,247.64 H49.60 M47.60,243.08 H49.60 M47.60,239.22 H49.60 M47.60,235.88 H49.60 M47.60,232.94 H49.60 M46.10,230.30 H49.60 M49.77,432.00 V434.00 M56.57,432.00 V434.00 M62.65,432.00 V435.50 M102.67,432.00 V434.00 M126.08,432.00 V434.00 M142.69,432.00 V434.00 M155.58,432.00 V434.00 M166.11,432.00 V434.00 M175.01,432.00 V434.00 M182.72,432.00 V434.00 M189.52,432.00 V434.00 M195.60,432.00 V435.50 M235.62,432.00 V434.00 M259.03,432.00 V434.00 M275.64,432.00 V434.00 M285.50,426.02 H287.50 M285.50,420.44 H287.50 M285.50,415.88 H287.50 M285.50,412.02 H287.50 M285.50,408.68 H287.50 M285.50,405.74 H287.50 M284.00,403.10 H287.50 M285.50,385.76 H287.50 M285.50,375.62 H287.50 M285.50,368.42 H287.50 M285.50,362.84 H287.50 M285.50,358.28 H287.50 M285.50,354.42 H287.50 M285.50,351.08 H287.50 M285.50,348.14 H287.50 M284.00,345.50 H287.50 M285.50,328.16 H287.50 M285.50,318.02 H287.50 M285.50,310.82 H287.50 M285.50,305.24 H287.50 M285.50,300.68 H287.50 M285.50,296.82 H287.50 M285.50,293.48 H287.50 M285.50,290.54 H287.50 M284.00,287.90 H287.50 M285.50,270.56 H287.50 M285.50,260.42 H287.50 M285.50,253.22 H287.50 M285.50,247.64 H287.50 M285.50,243.08 H287.50 M285.50,239.22 H287.50 M285.50,235.88 H287.50 M285.50,232.94 H287.50 M284.00,230.30 H287.50 M287.67,432.00 V434.00 M294.47,432.00 V434.00 M300.55,432.00 V435.50 M340.57,432.00 V434.00 M363.98,432.00 V434.00 M380.59,432.00 V434.00 M393.48,432.00 V434.00 M404.01,432.00 V434.00 M412.91,432.00 V434.00 M420.62,432.00 V434.00 M427.42,432.00 V434.00 M433.50,432.00 V435.50 M473.52,432.00 V434.00 M496.93,432.00 V434.00 M513.54,432.00 V434.00" stroke="#a4a4a4" stroke-width="0.9" fill="none"/>
<rect x="49.6" y="6.4" width="237.9" height="212.79999999999998" fill="none" stroke="#a4a4a4" stroke-width="1.4"/>
<rect x="287.5" y="6.4" width="238.10000000000002" height="212.79999999999998" fill="none" stroke="#a4a4a4" stroke-width="1.4"/>
<rect x="49.6" y="219.2" width="237.9" height="212.8" fill="none" stroke="#a4a4a4" stroke-width="1.4"/>
<rect x="287.5" y="219.2" width="238.10000000000002" height="212.8" fill="none" stroke="#a4a4a4" stroke-width="1.4"/>
<rect x="54.9" y="165.4" width="139.70" height="48.20" rx="2.5" fill="#fff" fill-opacity="0.8" stroke="#dcdcdc" stroke-width="1"/>
<path d="M58.00,174.00 H80.50" stroke="#2a80be" stroke-width="1.7"/>
<path d="M58.00,188.80 H80.50" stroke="#ff8620" stroke-width="1.7"/>
<path d="M63.95,204.20 H74.55 M69.25,198.80 V209.60" stroke="#ff0000" stroke-width="1.3" fill="none"/><path d="M63.95,202.70 V205.70 M74.55,202.70 V205.70 M67.75,198.80 H70.75 M67.75,209.60 H70.75" stroke="#ff0000" stroke-width="1.1" fill="none"/><path d="M69.25,201.53 L72.15,206.46 L66.35,206.46 Z" fill="#ff0000"/>
<text x="87.60" y="177.50" textLength="96.9" lengthAdjust="spacingAndGlyphs" style="font-family:'Liberation Sans',sans-serif;font-size:11.8px" fill="#000" stroke="#000" stroke-width="0.25">star formation rate</text>
<text x="87.60" y="192.40" textLength="103.1" lengthAdjust="spacingAndGlyphs" style="font-family:'Liberation Sans',sans-serif;font-size:11.8px" fill="#000" stroke="#000" stroke-width="0.25">stellar mass density</text>
<text x="87.60" y="207.30" textLength="41.6" lengthAdjust="spacingAndGlyphs" style="font-family:'Liberation Sans',sans-serif;font-size:11.8px" fill="#000" stroke="#000" stroke-width="0.25">one-offs</text>
<rect x="293.5" y="11.4" width="144.90" height="49.90" rx="2.5" fill="#fff" fill-opacity="0.8" stroke="#dcdcdc" stroke-width="1"/>
<path d="M296.40,20.00 H319.80" stroke="#2a80be" stroke-width="1.7"/>
<path d="M296.40,35.80 H319.80" stroke="#ff8620" stroke-width="1.7"/>
<path d="M302.80,51.40 H313.40 M308.10,46.00 V56.80" stroke="#0000ff" stroke-width="1.3" fill="none"/><path d="M302.80,49.90 V52.90 M313.40,49.90 V52.90 M306.60,46.00 H309.60 M306.60,56.80 H309.60" stroke="#0000ff" stroke-width="1.1" fill="none"/><path d="M308.10,48.73 L311.00,53.66 L305.20,53.66 Z" fill="#0000ff"/>
<text x="327.40" y="23.70" textLength="100.5" lengthAdjust="spacingAndGlyphs" style="font-family:'Liberation Sans',sans-serif;font-size:12.2px" fill="#000" stroke="#000" stroke-width="0.25">star formation rate</text>
<text x="327.40" y="39.60" textLength="106.6" lengthAdjust="spacingAndGlyphs" style="font-family:'Liberation Sans',sans-serif;font-size:12.2px" fill="#000" stroke="#000" stroke-width="0.25">stellar mass density</text>
<text x="327.40" y="54.50" textLength="51.2" lengthAdjust="spacingAndGlyphs" style="font-family:'Liberation Sans',sans-serif;font-size:12.2px" fill="#000" stroke="#000" stroke-width="0.25">repeaters</text>
<rect x="54.9" y="224.5" width="161.60" height="47.70" rx="2.5" fill="#fff" fill-opacity="0.8" stroke="#dcdcdc" stroke-width="1"/>
<path d="M58.00,232.20 H80.50" stroke="#2a80be" stroke-width="1.7"/>
<path d="M58.00,247.20 H80.50" stroke="#ff8620" stroke-width="1.7"/>
<path d="M63.95,262.80 H74.55 M69.25,257.40 V268.20" stroke="#008000" stroke-width="1.3" fill="none"/><path d="M63.95,261.30 V264.30 M74.55,261.30 V264.30 M67.75,257.40 H70.75 M67.75,268.20 H70.75" stroke="#008000" stroke-width="1.1" fill="none"/><path d="M69.25,260.13 L72.15,265.06 L66.35,265.06 Z" fill="#008000"/>
<text x="87.70" y="236.00" textLength="96.8" lengthAdjust="spacingAndGlyphs" style="font-family:'Liberation Sans',sans-serif;font-size:11.8px" fill="#000" stroke="#000" stroke-width="0.25">star formation rate</text>
<text x="87.70" y="250.70" textLength="102.4" lengthAdjust="spacingAndGlyphs" style="font-family:'Liberation Sans',sans-serif;font-size:11.8px" fill="#000" stroke="#000" stroke-width="0.25">stellar mass density</text>
<text x="87.70" y="265.50" textLength="124.0" lengthAdjust="spacingAndGlyphs" style="font-family:'Liberation Sans',sans-serif;font-size:11.8px" fill="#000" stroke="#000" stroke-width="0.25">multi-structural one-offs</text>
<rect x="292.9" y="224.5" width="225.90" height="47.60" rx="2.5" fill="#fff" fill-opacity="0.8" stroke="#dcdcdc" stroke-width="1"/>
<path d="M296.00,232.20 H318.50" stroke="#2a80be" stroke-width="1.7"/>
<path d="M296.00,247.40 H318.50" stroke="#ff8620" stroke-width="1.7"/>
<path d="M301.95,263.00 H312.55 M307.25,257.60 V268.40" stroke="#800080" stroke-width="1.3" fill="none"/><path d="M301.95,261.50 V264.50 M312.55,261.50 V264.50 M305.75,257.60 H308.75 M305.75,268.40 H308.75" stroke="#800080" stroke-width="1.1" fill="none"/><path d="M307.25,260.33 L310.15,265.26 L304.35,265.26 Z" fill="#800080"/>
<text x="325.90" y="235.90" textLength="97.0" lengthAdjust="spacingAndGlyphs" style="font-family:'Liberation Sans',sans-serif;font-size:11.8px" fill="#000" stroke="#000" stroke-width="0.25">star formation rate</text>
<text x="325.90" y="250.70" textLength="103.0" lengthAdjust="spacingAndGlyphs" style="font-family:'Liberation Sans',sans-serif;font-size:11.8px" fill="#000" stroke="#000" stroke-width="0.25">stellar mass density</text>
<text x="325.90" y="265.70" textLength="190.6" lengthAdjust="spacingAndGlyphs" style="font-family:'Liberation Sans',sans-serif;font-size:11.8px" fill="#000" stroke="#000" stroke-width="0.25">repeaters + multi-structural one-offs</text>
<text x="267.9" y="204.8" style="font-family:'Liberation Sans',sans-serif;font-size:11.4px" fill="#000" stroke="#000" stroke-width="0.25">(a)</text>
<text x="506.0" y="204.8" style="font-family:'Liberation Sans',sans-serif;font-size:11.4px" fill="#000" stroke="#000" stroke-width="0.25">(b)</text>
<text x="267.9" y="418.5" style="font-family:'Liberation Sans',sans-serif;font-size:11.4px" fill="#000" stroke="#000" stroke-width="0.25">(c)</text>
<text x="506.0" y="418.5" style="font-family:'Liberation Sans',sans-serif;font-size:11.4px" fill="#000" stroke="#000" stroke-width="0.25">(d)</text>
<text x="27.3" y="194.70" textLength="12.3" lengthAdjust="spacingAndGlyphs" style="font-family:'Liberation Sans',sans-serif;font-size:10.6px" fill="#000" stroke="#000" stroke-width="0.25">10</text>
<text x="39.8" y="190.20" style="font-family:'Liberation Sans',sans-serif;font-size:7.9px" fill="#000" stroke="#000" stroke-width="0.12">2</text>
<text x="27.3" y="137.10" textLength="12.3" lengthAdjust="spacingAndGlyphs" style="font-family:'Liberation Sans',sans-serif;font-size:10.6px" fill="#000" stroke="#000" stroke-width="0.25">10</text>
<text x="39.8" y="132.60" style="font-family:'Liberation Sans',sans-serif;font-size:7.9px" fill="#000" stroke="#000" stroke-width="0.12">3</text>
<text x="27.3" y="79.50" textLength="12.3" lengthAdjust="spacingAndGlyphs" style="font-family:'Liberation Sans',sans-serif;font-size:10.6px" fill="#000" stroke="#000" stroke-width="0.25">10</text>
<text x="39.8" y="75.00" style="font-family:'Liberation Sans',sans-serif;font-size:7.9px" fill="#000" stroke="#000" stroke-width="0.12">4</text>
<text x="27.3" y="21.90" textLength="12.3" lengthAdjust="spacingAndGlyphs" style="font-family:'Liberation Sans',sans-serif;font-size:10.6px" fill="#000" stroke="#000" stroke-width="0.25">10</text>
<text x="39.8" y="17.40" style="font-family:'Liberation Sans',sans-serif;font-size:7.9px" fill="#000" stroke="#000" stroke-width="0.12">5</text>
<text x="27.3" y="407.50" textLength="12.3" lengthAdjust="spacingAndGlyphs" style="font-family:'Liberation Sans',sans-serif;font-size:10.6px" fill="#000" stroke="#000" stroke-width="0.25">10</text>
<text x="39.8" y="403.00" style="font-family:'Liberation Sans',sans-serif;font-size:7.9px" fill="#000" stroke="#000" stroke-width="0.12">2</text>
<text x="27.3" y="349.90" textLength="12.3" lengthAdjust="spacingAndGlyphs" style="font-family:'Liberation Sans',sans-serif;font-size:10.6px" fill="#000" stroke="#000" stroke-width="0.25">10</text>
<text x="39.8" y="345.40" style="font-family:'Liberation Sans',sans-serif;font-size:7.9px" fill="#000" stroke="#000" stroke-width="0.12">3</text>
<text x="27.3" y="292.30" textLength="12.3" lengthAdjust="spacingAndGlyphs" style="font-family:'Liberation Sans',sans-serif;font-size:10.6px" fill="#000" stroke="#000" stroke-width="0.25">10</text>
<text x="39.8" y="287.80" style="font-family:'Liberation Sans',sans-serif;font-size:7.9px" fill="#000" stroke="#000" stroke-width="0.12">4</text>
<text x="27.3" y="234.70" textLength="12.3" lengthAdjust="spacingAndGlyphs" style="font-family:'Liberation Sans',sans-serif;font-size:10.6px" fill="#000" stroke="#000" stroke-width="0.25">10</text>
<text x="39.8" y="230.20" style="font-family:'Liberation Sans',sans-serif;font-size:7.9px" fill="#000" stroke="#000" stroke-width="0.12">5</text>
<text x="51.65" y="444.10" textLength="12.3" lengthAdjust="spacingAndGlyphs" style="font-family:'Liberation Sans',sans-serif;font-size:10.6px" fill="#000" stroke="#000" stroke-width="0.25">10</text>
<text x="63.95" y="440.40" style="font-family:'Liberation Sans',sans-serif;font-size:8.6px" fill="#000" stroke="#000" stroke-width="0.25">−1</text>
<text x="186.40" y="444.10" textLength="12.3" lengthAdjust="spacingAndGlyphs" style="font-family:'Liberation Sans',sans-serif;font-size:10.6px" fill="#000" stroke="#000" stroke-width="0.25">10</text>
<text x="198.60" y="440.40" style="font-family:'Liberation Sans',sans-serif;font-size:8.6px" fill="#000" stroke="#000" stroke-width="0.25">0</text>
<text x="289.55" y="444.10" textLength="12.3" lengthAdjust="spacingAndGlyphs" style="font-family:'Liberation Sans',sans-serif;font-size:10.6px" fill="#000" stroke="#000" stroke-width="0.25">10</text>
<text x="301.85" y="440.40" style="font-family:'Liberation Sans',sans-serif;font-size:8.6px" fill="#000" stroke="#000" stroke-width="0.25">−1</text>
<text x="424.30" y="444.10" textLength="12.3" lengthAdjust="spacingAndGlyphs" style="font-family:'Liberation Sans',sans-serif;font-size:10.6px" fill="#000" stroke="#000" stroke-width="0.25">10</text>
<text x="436.50" y="440.40" style="font-family:'Liberation Sans',sans-serif;font-size:8.6px" fill="#000" stroke="#000" stroke-width="0.25">0</text>
<text x="168.55" y="455.9" text-anchor="middle" style="font-family:'Liberation Sans',sans-serif;font-size:11.5px" fill="#000" stroke="#000" stroke-width="0.25">Redshift</text>
<text x="406.55" y="455.9" text-anchor="middle" style="font-family:'Liberation Sans',sans-serif;font-size:11.5px" fill="#000" stroke="#000" stroke-width="0.25">Redshift</text>
<text transform="translate(13.6,216.0) rotate(-90)" text-anchor="middle" style="font-family:'Liberation Sans',sans-serif;font-size:11.4px" fill="#000" stroke="#000" stroke-width="0.25">Number of FRB sources (Gpc<tspan dy="-4.3" font-size="8.6px">−3</tspan><tspan dy="4.3"> yr</tspan><tspan dy="-4.3" font-size="8.6px">−1</tspan><tspan dy="4.3">)</tspan></text>
<text transform="translate(535.2,216.2) rotate(90)" text-anchor="middle" style="font-family:'Liberation Sans',sans-serif;font-size:11.5px" fill="#000" stroke="#000" stroke-width="0.25">Density × constant</text>
</svg></body></html>
